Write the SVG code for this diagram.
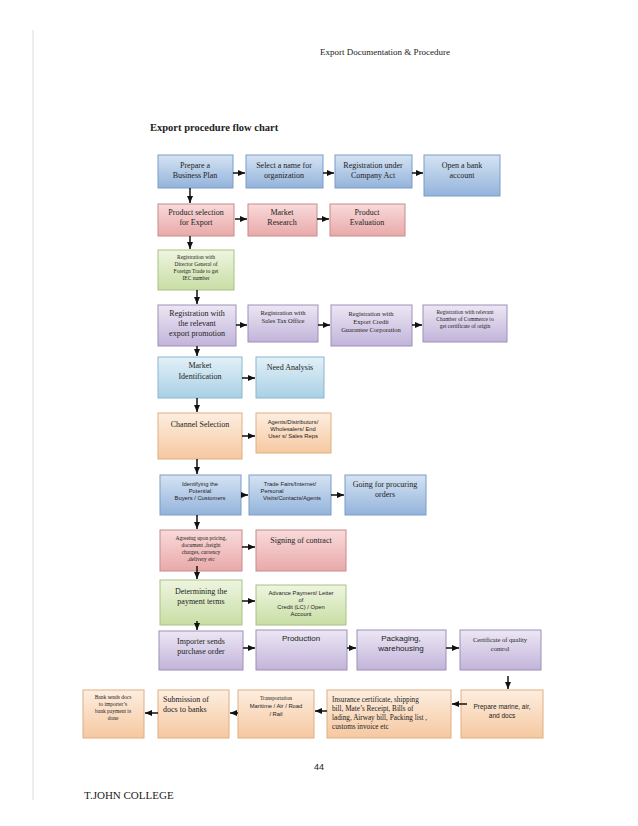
<svg xmlns="http://www.w3.org/2000/svg" width="638" height="826" viewBox="0 0 638 826">
<defs>
<linearGradient id="gb" x1="0" y1="0" x2="0" y2="1"><stop offset="0" stop-color="#d5e3f3"/><stop offset="1" stop-color="#93b3db"/></linearGradient>
<linearGradient id="gr" x1="0" y1="0" x2="0" y2="1"><stop offset="0" stop-color="#f9dada"/><stop offset="1" stop-color="#e9a9a9"/></linearGradient>
<linearGradient id="gg" x1="0" y1="0" x2="0" y2="1"><stop offset="0" stop-color="#eef5e0"/><stop offset="1" stop-color="#c8dea4"/></linearGradient>
<linearGradient id="gp" x1="0" y1="0" x2="0" y2="1"><stop offset="0" stop-color="#ece7f4"/><stop offset="1" stop-color="#c2b4da"/></linearGradient>
<linearGradient id="gc" x1="0" y1="0" x2="0" y2="1"><stop offset="0" stop-color="#e2f1f8"/><stop offset="1" stop-color="#a9d0e4"/></linearGradient>
<linearGradient id="go" x1="0" y1="0" x2="0" y2="1"><stop offset="0" stop-color="#fdeee0"/><stop offset="1" stop-color="#f6c8a0"/></linearGradient>
<marker id="ah" markerWidth="8" markerHeight="8" refX="7" refY="4" orient="auto" markerUnits="userSpaceOnUse"><path d="M0,1 L7,4 L0,7 z" fill="#111"/></marker>
<style>
.b{fill:url(#gb);stroke:#7d9cc6}.r{fill:url(#gr);stroke:#c88a8a}.g{fill:url(#gg);stroke:#a8c284}.p{fill:url(#gp);stroke:#9d90b8}.c{fill:url(#gc);stroke:#8bb6cf}.o{fill:url(#go);stroke:#dfae84}
rect{stroke-width:1}
text{fill:#222;text-anchor:middle}
.t{font-family:"Liberation Serif",serif;font-size:8px}
.s{font-family:"Liberation Sans",sans-serif;font-size:5.8px}
.ts{font-family:"Liberation Serif",serif;font-size:5.5px}
.m{font-family:"Liberation Serif",serif;font-size:6.5px}
.a{font-family:"Liberation Sans",sans-serif;font-size:8px}
.l{text-anchor:start}
#conn line{stroke:#111;stroke-width:1.5;marker-end:url(#ah)}
</style>
</defs>
<rect width="638" height="826" fill="#fff"/>
<line x1="33" y1="30" x2="33" y2="800" stroke="#ddd"/>
<text x="385" y="55" font-family="Liberation Serif,serif" font-size="9">Export Documentation &amp; Procedure</text>
<text x="150" y="131" font-family="Liberation Serif,serif" font-size="10.5" font-weight="bold" style="text-anchor:start">Export procedure flow chart</text>
<g id="n1"><rect class="b" x="158" y="155" width="75" height="33"/><text class="t" x="195" y="168">Prepare a</text><text class="t" x="195" y="178">Business Plan</text></g>
<g id="n2"><rect class="b" x="246" y="155" width="77" height="33"/><text class="t" x="284" y="168">Select a name for</text><text class="t" x="284" y="178">organization</text></g>
<g id="n3"><rect class="b" x="335" y="155" width="77" height="33"/><text class="t" x="373" y="168">Registration under</text><text class="t" x="373" y="178">Company Act</text></g>
<g id="n4"><rect class="b" x="424" y="155" width="76" height="41"/><text class="t" x="462" y="168">Open a bank</text><text class="t" x="462" y="178">account</text></g>
<g id="n5"><rect class="r" x="158" y="204" width="76" height="32"/><text class="t" x="196" y="215">Product selection</text><text class="t" x="196" y="225">for Export</text></g>
<g id="n6"><rect class="r" x="248" y="204" width="69" height="32"/><text class="t" x="282" y="215">Market</text><text class="t" x="282" y="225">Research</text></g>
<g id="n7"><rect class="r" x="330" y="204" width="75" height="32"/><text class="t" x="367" y="215">Product</text><text class="t" x="367" y="225">Evaluation</text></g>
<g id="n8"><rect class="g" x="158" y="250" width="76" height="40"/><text class="ts" x="196" y="259">Registration with</text><text class="ts" x="196" y="266">Director General of</text><text class="ts" x="196" y="273">Foreign Trade to get</text><text class="ts" x="196" y="280">IEC number</text></g>
<g id="n9"><rect class="p" x="158" y="305" width="78" height="41"/><text class="t" x="197" y="316">Registration with</text><text class="t" x="197" y="326">the relevant</text><text class="t" x="197" y="336">export promotion</text></g>
<g id="n10"><rect class="p" x="248" y="305" width="70" height="37"/><text class="m" x="283" y="315">Registration with</text><text class="m" x="283" y="323">Sales Tax Office</text></g>
<g id="n11"><rect class="p" x="331" y="305" width="81" height="41"/><text class="m" x="371" y="316">Registration with</text><text class="m" x="371" y="324">Export Credit</text><text class="m" x="371" y="332">Guarantee Corporation</text></g>
<g id="n12"><rect class="p" x="423" y="305" width="84" height="37"/><text class="ts" x="465" y="314">Registration with relevant</text><text class="ts" x="465" y="321">Chamber of Commerce to</text><text class="ts" x="465" y="328">get certificate of origin</text></g>
<g id="n13"><rect class="c" x="158" y="357" width="84" height="41"/><text class="t" x="200" y="368">Market</text><text class="t" x="200" y="379">Identification</text></g>
<g id="n14"><rect class="c" x="256" y="357" width="68" height="41"/><text class="t" x="290" y="370">Need Analysis</text></g>
<g id="n15"><rect class="o" x="158" y="413" width="84" height="46"/><text class="t" x="200" y="427">Channel Selection</text></g>
<g id="n16"><rect class="o" x="256" y="413" width="75" height="40"/><text class="s" x="293" y="424">Agents/Distributors/</text><text class="s" x="293" y="431">Wholesalers/ End</text><text class="s" x="293" y="438">User s/ Sales Reps</text></g>
<g id="n17"><rect class="b" x="160" y="475" width="81" height="40"/><text class="s" x="200" y="486">Identifying the</text><text class="s" x="200" y="493">Potential</text><text class="s" x="200" y="500">Buyers / Customers</text></g>
<g id="n18"><rect class="b" x="249" y="475" width="82" height="40"/><text class="s" x="290" y="486">Trade Fairs/Internet/</text><text class="s" x="272" y="493">Personal</text><text class="s" x="292" y="500">Visits/Contacts/Agents</text></g>
<g id="n19"><rect class="b" x="345" y="475" width="81" height="40"/><text class="t" x="385" y="487">Going for procuring</text><text class="t" x="385" y="497">orders</text></g>
<g id="n20"><rect class="r" x="160" y="530" width="82" height="41"/><text class="ts" x="201" y="540">Agreeing upon pricing,</text><text class="ts" x="201" y="547">document ,freight</text><text class="ts" x="201" y="554">charges, currency</text><text class="ts" x="201" y="561">,delivery etc</text></g>
<g id="n21"><rect class="r" x="256" y="530" width="90" height="41"/><text class="t" x="301" y="543">Signing of contract</text></g>
<g id="n22"><rect class="g" x="160" y="580" width="82" height="45"/><text class="t" x="201" y="594">Determining the</text><text class="t" x="201" y="604">payment terms</text></g>
<g id="n23"><rect class="g" x="256" y="585" width="90" height="40"/><text class="s" x="301" y="595">Advance Payment/ Letter</text><text class="s" x="301" y="602">of</text><text class="s" x="301" y="609">Credit (LC) / Open</text><text class="s" x="301" y="616">Account</text></g>
<g id="n24"><rect class="p" x="159" y="631" width="84" height="39"/><text class="t" x="201" y="644">Importer sends</text><text class="t" x="201" y="654">purchase order</text></g>
<g id="n25"><rect class="p" x="256" y="630" width="91" height="40"/><text class="a" x="301" y="641">Production</text></g>
<g id="n26"><rect class="p" x="357" y="630" width="89" height="40"/><text class="a" x="401" y="641">Packaging,</text><text class="a" x="401" y="651">warehousing</text></g>
<g id="n27"><rect class="p" x="460" y="630" width="81" height="40"/><text class="m" x="500" y="642">Certificate of quality</text><text class="m" x="500" y="651">control</text></g>
<g id="n28"><rect class="o" x="461" y="690" width="82" height="48"/><text class="s" x="502" y="709" style="font-size:6.5px">Prepare marine, air,</text><text class="s" x="502" y="718" style="font-size:6.5px">and docs</text></g>
<g id="n29"><rect class="o" x="327" y="690" width="124" height="48"/><text class="t l" x="332" y="702" style="font-size:7.2px">Insurance certificate, shipping</text><text class="t l" x="332" y="711" style="font-size:7.2px">bill, Mate’s Receipt, Bills of</text><text class="t l" x="332" y="720" style="font-size:7.2px">lading, Airway bill, Packing list ,</text><text class="t l" x="332" y="729" style="font-size:7.2px">customs invoice etc</text></g>
<g id="n30"><rect class="o" x="238" y="690" width="76" height="48"/><text class="ts" x="276" y="700">Transportation</text><text class="s" x="276" y="708">Maritime / Air / Road</text><text class="s" x="276" y="716">/ Rail</text></g>
<g id="n31"><rect class="o" x="158" y="690" width="71" height="48"/><text class="t l" x="163" y="702">Submission of</text><text class="t l" x="163" y="712">docs to banks</text></g>
<g id="n32"><rect class="o" x="83" y="690" width="61" height="48"/><text class="ts" x="113" y="699">Bank sends docs</text><text class="ts" x="113" y="706">to importer’s</text><text class="ts" x="113" y="713">bank payment is</text><text class="ts" x="113" y="720">done</text></g>
<g id="conn">
<line x1="233" y1="173" x2="245" y2="173"/><line x1="323" y1="173" x2="334" y2="173"/><line x1="412" y1="173" x2="423" y2="173"/>
<line x1="190" y1="188" x2="190" y2="203"/>
<line x1="235" y1="219" x2="247" y2="219"/><line x1="317" y1="219" x2="329" y2="219"/>
<line x1="190" y1="236" x2="190" y2="249"/>
<line x1="197" y1="290" x2="197" y2="304"/>
<line x1="236" y1="325" x2="247" y2="325"/><line x1="318" y1="325" x2="330" y2="325"/><line x1="412" y1="325" x2="422" y2="325"/>
<line x1="197" y1="346" x2="197" y2="356"/>
<line x1="242" y1="378" x2="255" y2="378"/>
<line x1="197" y1="398" x2="197" y2="412"/>
<line x1="242" y1="436" x2="255" y2="436"/>
<line x1="197" y1="459" x2="197" y2="474"/>
<line x1="241" y1="495" x2="248" y2="495"/><line x1="331" y1="495" x2="344" y2="495"/>
<line x1="197" y1="515" x2="197" y2="529"/>
<line x1="242" y1="547" x2="255" y2="547"/>
<line x1="197" y1="566" x2="197" y2="579"/>
<line x1="242" y1="601" x2="255" y2="601"/>
<line x1="197" y1="621" x2="197" y2="630"/>
<line x1="243" y1="648" x2="255" y2="648"/><line x1="347" y1="648" x2="356" y2="648"/><line x1="446" y1="648" x2="459" y2="648"/>
<line x1="508" y1="676" x2="508" y2="689"/>
<line x1="467" y1="704" x2="452" y2="704"/><line x1="327" y1="711" x2="315" y2="711"/><line x1="238" y1="713" x2="230" y2="713"/><line x1="158" y1="713" x2="145" y2="713"/>
</g>
<text x="319" y="770" font-family="Liberation Sans,sans-serif" font-size="9">44</text>
<text x="84" y="799" font-family="Liberation Serif,serif" font-size="11" style="text-anchor:start">T.JOHN COLLEGE</text>
</svg>
